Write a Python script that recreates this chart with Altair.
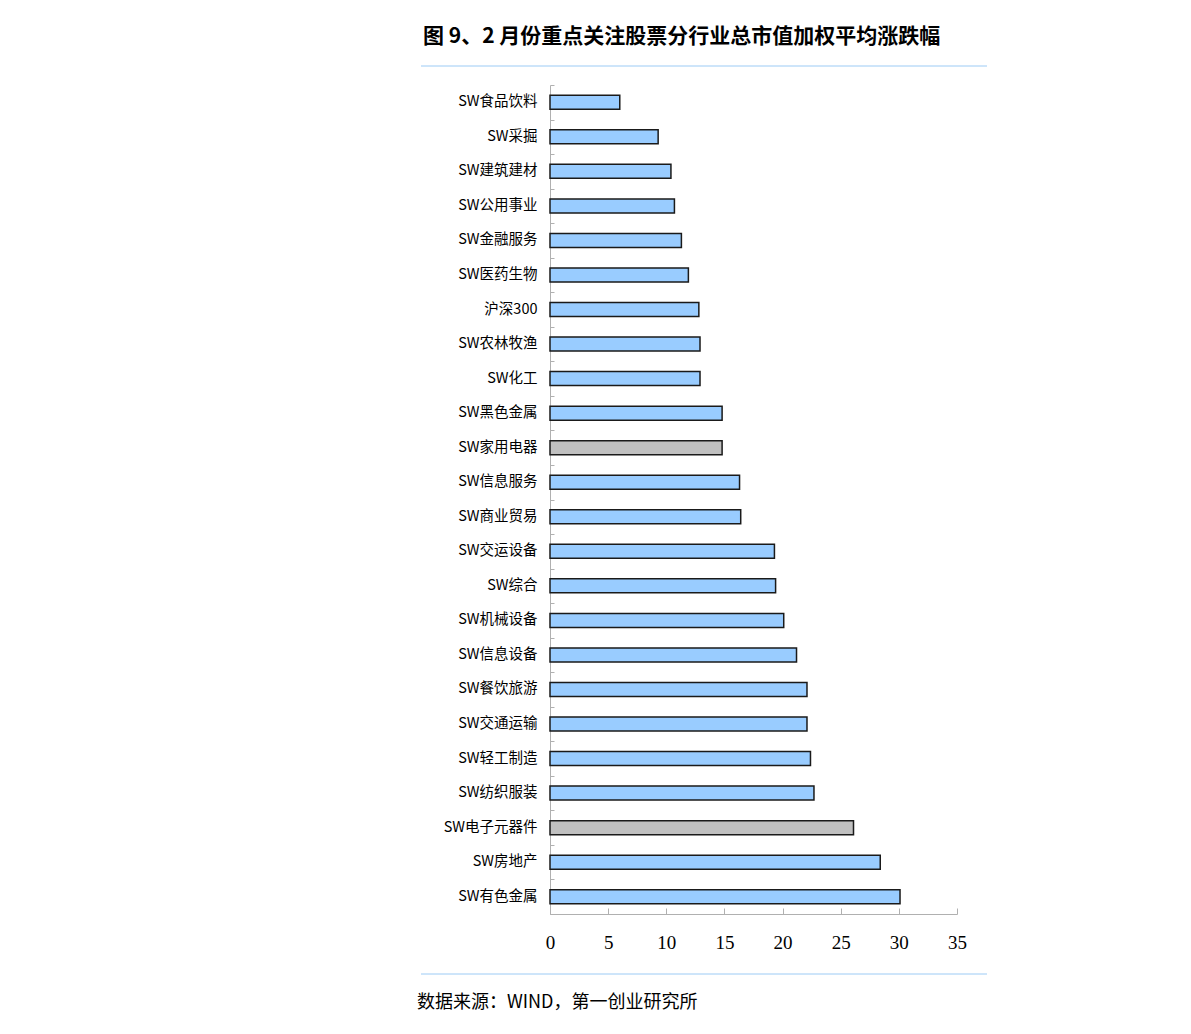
import altair as alt
import pandas as pd

categories = ["SW食品饮料", "SW采掘", "SW建筑建材", "SW公用事业", "SW金融服务", "SW医药生物",
              "沪深300", "SW农林牧渔", "SW化工", "SW黑色金属", "SW家用电器", "SW信息服务",
              "SW商业贸易", "SW交运设备", "SW综合", "SW机械设备", "SW信息设备", "SW餐饮旅游",
              "SW交通运输", "SW轻工制造", "SW纺织服装", "SW电子元器件", "SW房地产", "SW有色金属"]
values = [6.0, 9.3, 10.4, 10.7, 11.3, 11.9, 12.8, 12.9, 12.9, 14.8, 14.8, 16.3,
          16.4, 19.3, 19.4, 20.1, 21.2, 22.1, 22.1, 22.4, 22.7, 26.1, 28.4, 30.1]
highlight = ["SW家用电器", "SW电子元器件"]
x_ticks = [0, 5, 10, 15, 20, 25, 30, 35]
title_text = "图 9、2 月份重点关注股票分行业总市值加权平均涨跌幅"
source_text = "数据来源：WIND，第一创业研究所"

df = pd.DataFrame({"industry": categories, "value": values})
df["group"] = ["hl" if c in highlight else "normal" for c in categories]

W, H = 407, 829
CJK = "Noto Sans CJK SC"
AXIS_GRAY = "#B0B0B0"

xscale = alt.Scale(domain=[0, 35], nice=False, zero=True)
yscale = alt.Scale(paddingInner=0, paddingOuter=0)

bars = alt.Chart(df).mark_bar(size=14, stroke="#1a1a1a", strokeWidth=1.5).encode(
    x=alt.X("value:Q", scale=xscale,
            axis=alt.Axis(orient="bottom", values=x_ticks, domain=True, domainColor=AXIS_GRAY,
                          ticks=False, grid=False, labelPadding=19, labelFlush=False,
                          labelFont="Liberation Serif", labelFontSize=19,
                          labelColor="#000000", title=None)),
    y=alt.Y("industry:N", sort=categories, scale=yscale,
            axis=alt.Axis(orient="left", domain=True, domainColor=AXIS_GRAY, ticks=False,
                          labelPadding=13, labelFont=CJK, labelFontSize=14.5,
                          labelColor="#000000", title=None)),
    color=alt.Color("group:N", scale=alt.Scale(domain=["normal", "hl"], range=["#99CCFF", "#C0C0C0"]),
                    legend=None),
)

tick_layer = alt.Chart(df).mark_bar(opacity=0).encode(
    x=alt.X("value:Q", scale=xscale,
            axis=alt.Axis(orient="bottom", values=x_ticks, domain=False, labels=False, ticks=True,
                          tickColor=AXIS_GRAY, tickSize=6, offset=-6, grid=False, title=None)),
    y=alt.Y("industry:N", sort=categories, scale=yscale,
            axis=alt.Axis(orient="left", domain=False, labels=False, ticks=True, tickBand="extent",
                          tickColor=AXIS_GRAY, tickSize=4, offset=-4, grid=False, title=None)),
)

one = alt.Data(values=[{}])

title_mark = alt.Chart(one).mark_text(align="left", baseline="middle", font=CJK, fontSize=21,
                                      fontWeight="bold", color="#000000").encode(
    x=alt.value(-127), y=alt.value(-48), text=alt.value(title_text))

source_mark = alt.Chart(one).mark_text(align="left", baseline="middle", font=CJK, fontSize=18,
                                       color="#000000").encode(
    x=alt.value(-133), y=alt.value(918), text=alt.value(source_text))

top_line = alt.Chart(one).mark_rule(color="#9CCBF5", strokeWidth=1).encode(
    x=alt.value(-129), x2=alt.value(437), y=alt.value(-19))
bottom_line = alt.Chart(one).mark_rule(color="#9CCBF5", strokeWidth=1).encode(
    x=alt.value(-129), x2=alt.value(437), y=alt.value(889))

chart = alt.layer(bars, tick_layer, title_mark, source_mark, top_line, bottom_line).resolve_axis(
    x="independent", y="independent"
).properties(
    width=W, height=H,
    autosize=alt.AutoSizeParams(type="none"),
    padding={"left": 542, "top": 77, "right": 60, "bottom": 120},
).configure_view(stroke=None)

chart.save("out.html", embed_options={"renderer": "svg", "actions": False})
